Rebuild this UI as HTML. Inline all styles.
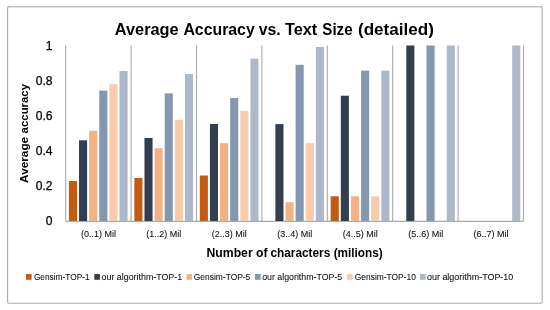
<!DOCTYPE html>
<html><head><meta charset="utf-8"><title>Average Accuracy vs. Text Size (detailed)</title>
<style>
html,body{margin:0;padding:0;background:#fff;width:550px;height:310px;overflow:hidden}
svg{display:block}
</style></head>
<body>
<svg width="550" height="310" viewBox="0 0 550 310">
<rect x="7.6" y="6.65" width="534.6" height="296.6" rx="1.5" fill="#fff" stroke="#AAAAAA" stroke-width="1.1"/>
<line x1="9.5" y1="6.65" x2="540.5" y2="6.65" stroke="#C2C2C2" stroke-width="1.15"/>
<line x1="65.70" y1="45.4" x2="65.70" y2="221.5" stroke="#ABABAB" stroke-width="1.1"/>
<line x1="131.10" y1="45.4" x2="131.10" y2="221.5" stroke="#ABABAB" stroke-width="1.1"/>
<line x1="196.50" y1="45.4" x2="196.50" y2="221.5" stroke="#ABABAB" stroke-width="1.1"/>
<line x1="261.90" y1="45.4" x2="261.90" y2="221.5" stroke="#ABABAB" stroke-width="1.1"/>
<line x1="327.30" y1="45.4" x2="327.30" y2="221.5" stroke="#ABABAB" stroke-width="1.1"/>
<line x1="392.70" y1="45.4" x2="392.70" y2="221.5" stroke="#ABABAB" stroke-width="1.1"/>
<line x1="458.10" y1="45.4" x2="458.10" y2="221.5" stroke="#ABABAB" stroke-width="1.1"/>
<line x1="523.50" y1="45.4" x2="523.50" y2="221.5" stroke="#ABABAB" stroke-width="1.1"/>
<line x1="65.70" y1="221.4" x2="523.50" y2="221.4" stroke="#ABABAB" stroke-width="1.1"/>
<rect x="68.90" y="181.00" width="8.1" height="40.00" fill="#C55A11"/>
<rect x="79.02" y="140.30" width="8.1" height="80.70" fill="#333F50"/>
<rect x="89.14" y="130.80" width="8.1" height="90.20" fill="#F4B183"/>
<rect x="99.26" y="90.60" width="8.1" height="130.40" fill="#8497B0"/>
<rect x="109.38" y="84.20" width="8.1" height="136.80" fill="#F8CBAD"/>
<rect x="119.50" y="71.00" width="8.1" height="150.00" fill="#ADB9CA"/>
<rect x="134.35" y="178.00" width="8.1" height="43.00" fill="#C55A11"/>
<rect x="144.47" y="138.00" width="8.1" height="83.00" fill="#333F50"/>
<rect x="154.59" y="148.20" width="8.1" height="72.80" fill="#F4B183"/>
<rect x="164.71" y="93.40" width="8.1" height="127.60" fill="#8497B0"/>
<rect x="174.83" y="119.80" width="8.1" height="101.20" fill="#F8CBAD"/>
<rect x="184.95" y="74.00" width="8.1" height="147.00" fill="#ADB9CA"/>
<rect x="199.80" y="175.50" width="8.1" height="45.50" fill="#C55A11"/>
<rect x="209.92" y="124.00" width="8.1" height="97.00" fill="#333F50"/>
<rect x="220.04" y="143.20" width="8.1" height="77.80" fill="#F4B183"/>
<rect x="230.16" y="98.00" width="8.1" height="123.00" fill="#8497B0"/>
<rect x="240.28" y="110.90" width="8.1" height="110.10" fill="#F8CBAD"/>
<rect x="250.40" y="58.50" width="8.1" height="162.50" fill="#ADB9CA"/>
<rect x="275.37" y="124.10" width="8.1" height="96.90" fill="#333F50"/>
<rect x="285.49" y="202.20" width="8.1" height="18.80" fill="#F4B183"/>
<rect x="295.61" y="64.80" width="8.1" height="156.20" fill="#8497B0"/>
<rect x="305.73" y="143.20" width="8.1" height="77.80" fill="#F8CBAD"/>
<rect x="315.85" y="47.00" width="8.1" height="174.00" fill="#ADB9CA"/>
<rect x="330.70" y="196.30" width="8.1" height="24.70" fill="#C55A11"/>
<rect x="340.82" y="95.70" width="8.1" height="125.30" fill="#333F50"/>
<rect x="350.94" y="196.30" width="8.1" height="24.70" fill="#F4B183"/>
<rect x="361.06" y="70.60" width="8.1" height="150.40" fill="#8497B0"/>
<rect x="371.18" y="196.30" width="8.1" height="24.70" fill="#F8CBAD"/>
<rect x="381.30" y="70.60" width="8.1" height="150.40" fill="#ADB9CA"/>
<rect x="406.27" y="45.50" width="8.1" height="175.50" fill="#333F50"/>
<rect x="426.51" y="45.50" width="8.1" height="175.50" fill="#8497B0"/>
<rect x="446.75" y="45.50" width="8.1" height="175.50" fill="#ADB9CA"/>
<rect x="512.20" y="45.50" width="8.1" height="175.50" fill="#ADB9CA"/>
<g font-family="&quot;Liberation Sans&quot;, Arial, sans-serif" font-weight="bold" font-size="17" fill="#000">
<text x="114.82" y="35" textLength="63.83" lengthAdjust="spacingAndGlyphs">Average</text>
<text x="183.43" y="35" textLength="71.31" lengthAdjust="spacingAndGlyphs">Accuracy</text>
<text x="258.71" y="35" textLength="21.94" lengthAdjust="spacingAndGlyphs">vs.</text>
<text x="285.01" y="35" textLength="32.28" lengthAdjust="spacingAndGlyphs">Text</text>
<text x="322.36" y="35" textLength="30.19" lengthAdjust="spacingAndGlyphs">Size</text>
<text x="358.00" y="35" textLength="75.87" lengthAdjust="spacingAndGlyphs">(detailed)</text>
</g>
<g font-family="&quot;Liberation Sans&quot;, Arial, sans-serif" font-size="12.1" fill="#000" stroke="#000" stroke-width="0.25" text-anchor="end">
<text x="52.6" y="225.00">0</text>
<text x="52.6" y="189.90">0.2</text>
<text x="52.6" y="154.80">0.4</text>
<text x="52.6" y="119.70">0.6</text>
<text x="52.6" y="84.60">0.8</text>
<text x="52.6" y="49.50">1</text>
</g>
<g font-family="&quot;Liberation Sans&quot;, Arial, sans-serif" font-weight="bold" font-size="12" fill="#000">
<text x="206.49" y="256.7" textLength="46.16" lengthAdjust="spacingAndGlyphs">Number</text>
<text x="255.99" y="256.7" textLength="11.54" lengthAdjust="spacingAndGlyphs">of</text>
<text x="270.51" y="256.7" textLength="59.79" lengthAdjust="spacingAndGlyphs">characters</text>
<text x="333.71" y="256.7" textLength="48.97" lengthAdjust="spacingAndGlyphs">(milions)</text>
</g>
<g font-family="&quot;Liberation Sans&quot;, Arial, sans-serif" font-weight="bold" font-size="11.6" fill="#000" transform="rotate(-90)">
<text x="-182.90" y="27.9" textLength="46.06" lengthAdjust="spacingAndGlyphs">Average</text>
<text x="-133.39" y="27.9" textLength="49.40" lengthAdjust="spacingAndGlyphs">accuracy</text>
</g>
<g font-family="&quot;Liberation Sans&quot;, Arial, sans-serif" font-size="9" fill="#111" stroke="#111" stroke-width="0.08" text-anchor="middle">
<text x="98.43" y="236.6">(0..1) Mil</text>
<text x="163.88" y="236.6">(1..2) Mil</text>
<text x="229.32" y="236.6">(2..3) Mil</text>
<text x="294.78" y="236.6">(3..4) Mil</text>
<text x="360.23" y="236.6">(4..5) Mil</text>
<text x="425.68" y="236.6">(5..6) Mil</text>
<text x="491.12" y="236.6">(6..7) Mil</text>
</g>
<g font-family="&quot;Liberation Sans&quot;, Arial, sans-serif" font-size="8.7" fill="#111" stroke="#111" stroke-width="0.08">
<rect x="26" y="274" width="5.6" height="5.8" fill="#C55A11" stroke="none"/>
<text x="33.92" y="280.3" textLength="55.70" lengthAdjust="spacingAndGlyphs">Gensim-TOP-1</text>
<rect x="94.3" y="274" width="5.6" height="5.8" fill="#333F50" stroke="none"/>
<text x="101.59" y="280.3" textLength="80.55" lengthAdjust="spacingAndGlyphs">our algorithm-TOP-1</text>
<rect x="186.6" y="274" width="5.6" height="5.8" fill="#F4B183" stroke="none"/>
<text x="193.81" y="280.3" textLength="56.51" lengthAdjust="spacingAndGlyphs">Gensim-TOP-5</text>
<rect x="255" y="274" width="5.6" height="5.8" fill="#8497B0" stroke="none"/>
<text x="262.20" y="280.3" textLength="80.04" lengthAdjust="spacingAndGlyphs">our algorithm-TOP-5</text>
<rect x="347.1" y="274" width="5.6" height="5.8" fill="#F8CBAD" stroke="none"/>
<text x="354.81" y="280.3" textLength="61.05" lengthAdjust="spacingAndGlyphs">Gensim-TOP-10</text>
<rect x="420" y="274" width="5.6" height="5.8" fill="#ADB9CA" stroke="none"/>
<text x="426.99" y="280.3" textLength="86.29" lengthAdjust="spacingAndGlyphs">our algorithm-TOP-10</text>
</g>
</svg>
</body></html>
